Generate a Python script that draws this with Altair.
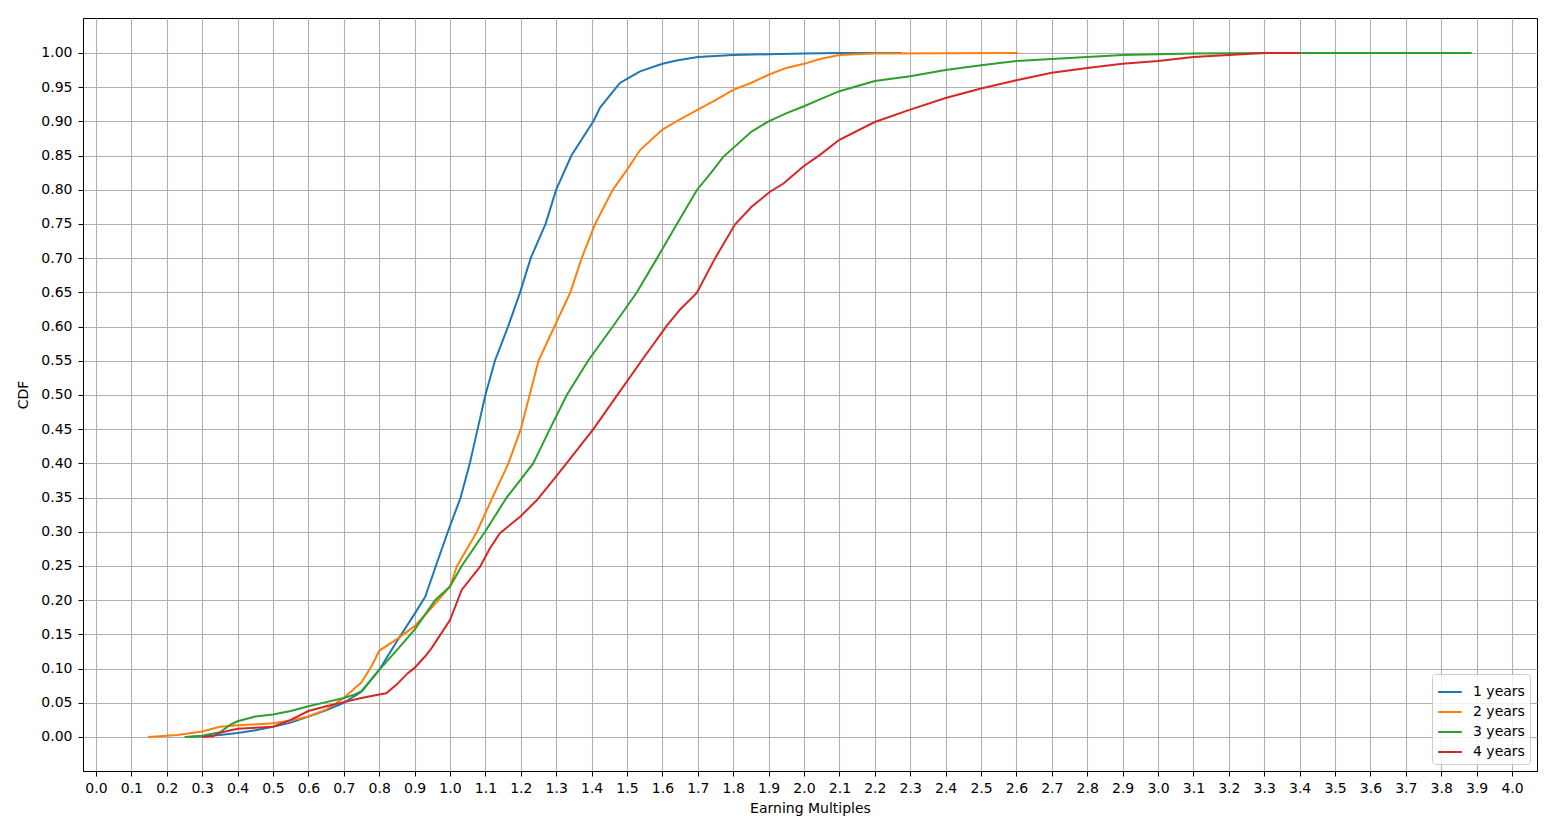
import altair as alt
import pandas as pd

# ---- data ----
series_names = ["1 years", "2 years", "3 years", "4 years"]
series_colors = ["#1f77b4", "#ff7f0e", "#2ca02c", "#d62728"]

x1 = [0.265, 0.30, 0.35, 0.40, 0.45, 0.50, 0.55, 0.60, 0.65, 0.70, 0.75, 0.80, 0.85, 0.90, 0.93,
      0.96, 0.994, 1.03, 1.056, 1.078, 1.10, 1.127, 1.164, 1.198, 1.228, 1.27, 1.30, 1.343, 1.405, 1.424,
      1.48, 1.50, 1.537, 1.60, 1.64, 1.70, 1.80, 1.90, 2.00, 2.10, 2.277]
y1 = [0.000, 0.001, 0.003, 0.006, 0.010, 0.015, 0.021, 0.030, 0.039, 0.050, 0.066, 0.098, 0.140, 0.180, 0.205,
      0.250, 0.300, 0.350, 0.400, 0.450, 0.500, 0.550, 0.600, 0.650, 0.700, 0.750, 0.800, 0.850, 0.900, 0.920,
      0.956, 0.962, 0.973, 0.984, 0.989, 0.994, 0.997, 0.998, 0.999, 1.000, 1.000]

x2 = [0.147, 0.20, 0.23, 0.30, 0.35, 0.40, 0.50, 0.55, 0.60, 0.65, 0.70, 0.75, 0.78, 0.80, 0.85,
      0.90, 0.95, 1.00, 1.02, 1.076, 1.12, 1.165, 1.20, 1.225, 1.25, 1.295, 1.34, 1.372, 1.41, 1.46,
      1.50, 1.537, 1.60, 1.65, 1.70, 1.75, 1.80, 1.85, 1.90, 1.95, 2.00, 2.045, 2.10, 2.20, 2.605]
y2 = [0.000, 0.002, 0.003, 0.008, 0.015, 0.017, 0.020, 0.024, 0.030, 0.040, 0.057, 0.080, 0.105, 0.126, 0.143,
      0.162, 0.190, 0.220, 0.250, 0.300, 0.350, 0.400, 0.450, 0.500, 0.550, 0.600, 0.650, 0.700, 0.750, 0.800,
      0.829, 0.858, 0.888, 0.903, 0.917, 0.931, 0.946, 0.956, 0.968, 0.978, 0.984, 0.991, 0.997, 0.999, 1.000]

x3 = [0.25, 0.30, 0.35, 0.38, 0.40, 0.45, 0.50, 0.55, 0.60, 0.65, 0.70, 0.73, 0.75, 0.80, 0.85,
      0.90, 0.958, 1.00, 1.033, 1.099, 1.16, 1.235, 1.282, 1.33, 1.39, 1.46, 1.528, 1.585, 1.641, 1.698,
      1.736, 1.772, 1.852, 1.90, 1.951, 2.00, 2.045, 2.10, 2.20, 2.30, 2.40, 2.50, 2.60, 2.70, 2.80, 2.90,
      3.00, 3.10, 3.40, 3.886]
y3 = [0.000, 0.002, 0.007, 0.018, 0.023, 0.030, 0.033, 0.038, 0.045, 0.051, 0.057, 0.062, 0.067, 0.098, 0.127,
      0.157, 0.200, 0.220, 0.250, 0.300, 0.350, 0.400, 0.450, 0.500, 0.550, 0.600, 0.650, 0.700, 0.750, 0.800,
      0.824, 0.848, 0.885, 0.900, 0.912, 0.922, 0.932, 0.944, 0.959, 0.966, 0.975, 0.982, 0.988, 0.991, 0.994, 0.997,
      0.998, 0.999, 1.000, 1.000]

x4 = [0.30, 0.33, 0.35, 0.38, 0.40, 0.50, 0.55, 0.60, 0.65, 0.70, 0.75, 0.80, 0.82, 0.85, 0.88,
      0.90, 0.93, 0.948, 1.00, 1.033, 1.085, 1.113, 1.141, 1.198, 1.245, 1.292, 1.329, 1.405, 1.47, 1.541,
      1.612, 1.650, 1.697, 1.749, 1.805, 1.852, 1.904, 1.942, 1.998, 2.045, 2.10, 2.20, 2.30, 2.40, 2.50,
      2.60, 2.70, 2.80, 2.90, 3.00, 3.10, 3.20, 3.30, 3.40]
y4 = [0.000, 0.001, 0.006, 0.010, 0.012, 0.015, 0.025, 0.038, 0.045, 0.051, 0.057, 0.062, 0.064, 0.077, 0.093,
      0.101, 0.118, 0.130, 0.171, 0.215, 0.249, 0.276, 0.298, 0.322, 0.346, 0.376, 0.400, 0.450, 0.498, 0.550,
      0.601, 0.625, 0.649, 0.700, 0.749, 0.775, 0.797, 0.809, 0.834, 0.851, 0.873, 0.899, 0.917, 0.934, 0.948,
      0.960, 0.971, 0.978, 0.984, 0.988, 0.994, 0.997, 1.000, 1.000]

x_ticks = [round(i * 0.1, 1) for i in range(41)]
y_ticks = [round(i * 0.05, 2) for i in range(21)]

frames = []
for name, xs, ys in zip(series_names, [x1, x2, x3, x4], [y1, y2, y3, y4]):
    frames.append(pd.DataFrame({"x": xs, "y": ys, "series": name, "order": range(len(xs))}))
df = pd.concat(frames, ignore_index=True)

FONT = "DejaVu Sans"

chart = (
    alt.Chart(df)
    .mark_line(strokeWidth=2, interpolate="linear")
    .encode(
        x=alt.X("x:Q",
                scale=alt.Scale(domain=[-0.0367, 4.0706], nice=False, zero=False),
                axis=alt.Axis(values=x_ticks, format=".1f", title="Earning Multiples",
                              labelOverlap=False, labelFlush=False, labelPadding=5, titlePadding=6)),
        y=alt.Y("y:Q",
                scale=alt.Scale(domain=[-0.0497, 1.051], nice=False, zero=False),
                axis=alt.Axis(values=y_ticks, format=".2f", title="CDF",
                              labelOverlap=False, labelFlush=False, labelPadding=6, titlePadding=10)),
        color=alt.Color("series:N",
                        scale=alt.Scale(domain=series_names, range=series_colors),
                        legend=alt.Legend(title=None, orient="bottom-right", offset=7,
                                          symbolType="stroke", symbolSize=560, symbolStrokeWidth=2,
                                          labelFontSize=14, labelFont=FONT, labelColor="black",
                                          fillColor="rgba(255,255,255,0.8)", strokeColor="#cccccc",
                                          cornerRadius=3, padding=5, rowPadding=0, labelOffset=10)),
        order="order:Q",
    )
    .properties(
        width=1454,
        height=753,
        autosize=alt.AutoSizeParams(type="none"),
        padding={"left": 75, "top": 10, "right": 20, "bottom": 50},
    )
    .configure_view(stroke="black", strokeWidth=1)
    .configure_axis(
        grid=True,
        gridColor="#b0b0b0",
        gridWidth=1.1,
        domainColor="black",
        domainWidth=1,
        tickColor="black",
        tickSize=5,
        labelFont=FONT,
        labelFontSize=14,
        labelColor="black",
        titleFont=FONT,
        titleFontSize=14,
        titleFontWeight="normal",
        titleColor="black",
    )
)

chart.save("out.html", embed_options={"renderer": "svg", "actions": False})
